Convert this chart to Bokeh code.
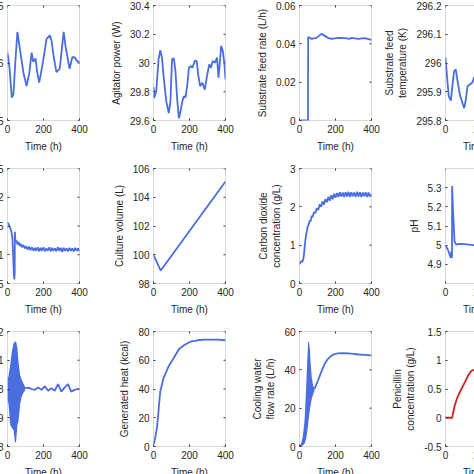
import math
from bokeh.plotting import figure
from bokeh.layouts import gridplot
from bokeh.models import FixedTicker, Range1d
from bokeh.embed import file_html
from bokeh.resources import INLINE

# ---------------- data (time in h) ----------------
time_ticks = [0, 200, 400]

# aeration rate
t_air = [0, 11, 24, 33, 44, 55, 70, 88, 106, 121, 134, 143, 156, 165, 176, 195, 217, 235, 244, 257, 272, 290, 299, 312, 323, 345, 360, 373, 385, 396, 400]
air = [8.609, 8.596, 8.570, 8.573, 8.602, 8.627, 8.611, 8.592, 8.580, 8.591, 8.609, 8.601, 8.604, 8.592, 8.583, 8.599, 8.621, 8.624, 8.620, 8.605, 8.592, 8.595, 8.608, 8.627, 8.614, 8.595, 8.605, 8.605, 8.602, 8.601, 8.600]
air_ticks = [8.55, 8.6, 8.65]

# agitator power
t_agit = [0, 4, 15, 28, 38, 47, 56, 71, 85, 94, 103, 113, 122, 131, 141, 150, 160, 169, 178, 188, 197, 207, 216, 229, 240, 248, 259, 272, 285, 297, 310, 319, 329, 342, 353, 361, 366, 376, 385, 394, 400]
agit = [29.832, 29.757, 29.80, 30.026, 30.089, 30.037, 29.909, 29.733, 29.651, 29.733, 30.026, 30.033, 29.944, 29.757, 29.616, 29.663, 29.733, 29.768, 29.761, 29.850, 29.967, 29.979, 29.967, 30.014, 30.014, 29.920, 29.839, 29.862, 29.815, 29.909, 29.991, 29.967, 30.014, 30.002, 30.037, 29.897, 29.967, 30.119, 30.084, 29.991, 29.885]
agit_ticks = [29.6, 29.8, 30, 30.2, 30.4]

# substrate feed rate
t_feed = [0, 47, 48, 67, 94, 122, 159, 178, 215, 252, 280, 289, 326, 363, 400]
feed = [0, 0, 0.0435, 0.0426, 0.0431, 0.0452, 0.0431, 0.0426, 0.0431, 0.0430, 0.0426, 0.0431, 0.0426, 0.0430, 0.0421]
feed_ticks = [0, 0.02, 0.04, 0.06]

# substrate feed temperature
t_ftemp = [0, 9, 18, 30, 39, 48, 57, 67, 80, 94, 104, 113, 122, 135, 148, 159, 167, 180, 200, 220, 250, 280, 320, 360, 400]
ftemp = [296.019, 295.949, 295.884, 295.869, 295.925, 295.972, 295.978, 295.937, 295.890, 295.861, 295.843, 295.873, 295.919, 295.925, 295.931, 295.949, 295.954, 295.965, 295.99, 296.0, 295.98, 296.01, 295.99, 296.0, 295.99]
ftemp_ticks = [295.8, 295.9, 296, 296.1, 296.2]

# dissolved oxygen concentration
t_do = [0, 8, 16, 22, 27, 30, 33, 36, 38, 40, 41, 43, 46, 50, 56, 62, 68, 74, 80, 88, 96, 104, 112, 120, 128, 136, 144, 152, 160, 168, 176, 184, 192, 200, 208, 216, 224, 232, 240, 248, 256, 264, 272, 280, 288, 296, 304, 312, 320, 328, 336, 344, 352, 360, 368, 376, 384, 392, 400]
do = [1.156, 1.152, 1.146, 1.140, 1.130, 1.110, 1.085, 1.064, 1.057, 1.070, 1.140, 1.128, 1.122, 1.125, 1.118, 1.122, 1.115, 1.119, 1.113, 1.117, 1.111, 1.115, 1.109, 1.114, 1.108, 1.113, 1.107, 1.112, 1.107, 1.113, 1.106, 1.112, 1.107, 1.113, 1.106, 1.111, 1.107, 1.113, 1.106, 1.112, 1.107, 1.111, 1.106, 1.113, 1.107, 1.112, 1.105, 1.112, 1.107, 1.111, 1.106, 1.112, 1.107, 1.111, 1.106, 1.112, 1.107, 1.111, 1.106]
do_ticks = [1.05, 1.1, 1.15, 1.2, 1.25]

# culture volume
t_vol = [0, 10, 20, 30, 40, 100, 200, 300, 400]
vol = [100.0, 99.72, 99.45, 99.17, 98.9, 99.93, 101.65, 103.38, 105.1]
vol_ticks = [98, 100, 102, 104, 106]

# carbon dioxide concentration
t_co2 = [0, 8, 16, 22, 26, 30, 34, 38, 42, 46, 50, 56, 62, 68, 74, 80, 88, 96, 104, 112, 120, 128, 136, 144, 152, 160, 168, 176, 184, 192, 200, 208, 216, 224, 232, 240, 248, 256, 264, 272, 280, 288, 296, 304, 312, 320, 328, 336, 344, 352, 360, 368, 376, 384, 392, 400]
co2 = [0.50, 0.58, 0.56, 0.66, 0.80, 1.02, 1.18, 1.30, 1.38, 1.50, 1.52, 1.64, 1.62, 1.76, 1.74, 1.86, 1.84, 1.96, 1.92, 2.06, 2.00, 2.14, 2.06, 2.20, 2.12, 2.26, 2.16, 2.30, 2.20, 2.34, 2.24, 2.36, 2.26, 2.38, 2.27, 2.37, 2.26, 2.38, 2.27, 2.39, 2.26, 2.38, 2.28, 2.37, 2.26, 2.39, 2.27, 2.38, 2.26, 2.37, 2.28, 2.38, 2.26, 2.37, 2.27, 2.33]
co2_ticks = [0, 1, 2, 3]

# pH
t_ph = [0, 13, 26, 30, 33, 36, 37, 41, 44, 50, 59, 78, 106, 152, 200, 250, 300, 350, 400]
ph = [5.0, 4.977, 4.942, 4.934, 4.969, 4.934, 5.309, 5.195, 5.143, 5.021, 5.003, 5.007, 5.005, 5.0, 5.003, 5.0, 5.002, 5.0, 5.001]
ph_ticks = [4.9, 5, 5.1, 5.2, 5.3]

# temperature: oscillating start (envelope), then settled trace
t_temp_band = [0, 5, 15, 24, 33, 42, 48, 55, 61, 70, 79, 88, 97]
temp_hi = [298.038, 298.043, 298.084, 298.130, 298.159, 298.165, 298.165, 298.142, 298.096, 298.049, 298.032, 298.020, 298.009]
temp_lo = [297.957, 297.951, 297.875, 297.864, 297.858, 297.812, 297.817, 297.875, 297.887, 297.945, 297.974, 297.986, 297.994]
t_temp = [97, 116, 134, 152, 171, 189, 207, 226, 244, 262, 281, 299, 317, 336, 354, 372, 391, 400]
temp = [298.003, 298.005, 298.0, 297.997, 298.005, 297.997, 298.009, 297.994, 298.003, 297.994, 298.017, 297.991, 298.005, 298.017, 297.991, 297.997, 298.0, 298.0]
temp_ticks = [297.8, 297.9, 298, 298.1, 298.2]

# generated heat
t_heat = [0, 9, 19, 28, 34, 38, 56, 85, 113, 141, 169, 207, 244, 282, 319, 357, 400]
heat = [1.2, 5.8, 12.8, 24.5, 33.8, 38.5, 47.8, 56, 61.8, 67.6, 70.4, 73, 73.9, 74.4, 74.4, 74.4, 73.9]
heat_ticks = [0, 20, 40, 60, 80]

# cooling water flow rate: oscillating start (envelope), then trace
t_cw_band = [0, 9, 18, 28, 37, 43, 48, 52, 57, 61, 68, 76, 83]
cw_hi = [0.5, 1.4, 4.9, 13.5, 30.9, 44.7, 54.3, 55.1, 51.7, 44.7, 36.1, 31.7, 30.5]
cw_lo = [0, 0, 0.5, 1.4, 4.0, 7.5, 11.8, 15.3, 18.7, 21.3, 24.8, 27.4, 29.1]
t_cw = [83, 90, 102, 120, 139, 157, 176, 194, 213, 241, 270, 300, 330, 360, 400]
cw = [30, 31.5, 34.3, 38.7, 43, 45.6, 47.3, 48.2, 48.6, 48.7, 48.6, 48.3, 48.0, 47.8, 47.5]
cw_ticks = [0, 20, 40, 60]

# penicillin concentration
t_pen = [0, 37, 50, 60, 69, 87, 106, 124, 143, 161, 180, 200, 250, 300, 350, 400]
pen = [0, 0, 0.2, 0.3, 0.375, 0.491, 0.608, 0.724, 0.812, 0.841, 0.88, 0.94, 1.05, 1.15, 1.22, 1.28]
pen_ticks = [-0.5, 0, 0.5, 1, 1.5]

# ---------------- styling ----------------
BLUE = "#4a6ee0"
RED = "#cc2222"
FRAME = "#d9d9d9"
TEXT = "#262626"
TICK = "#333333"
FONT = "Liberation Sans"


def style_axis(ax, ticks):
    ax.ticker = FixedTicker(ticks=ticks)
    ax.major_label_overrides = {v: f"{v:g}" for v in ticks}
    ax.axis_line_color = None
    ax.major_tick_in = 2
    ax.major_tick_out = 0
    ax.major_tick_line_color = TICK
    ax.minor_tick_line_color = None
    ax.major_label_text_font = FONT
    ax.major_label_text_font_size = "10px"
    ax.major_label_text_color = TEXT
    ax.major_label_standoff = 4
    ax.axis_label_text_font = FONT
    ax.axis_label_text_font_size = "10px"
    ax.axis_label_text_font_style = "normal"
    ax.axis_label_text_color = TEXT
    ax.axis_label_standoff = 5


def panel(ylabel, ylim, yticks):
    p = figure(width=146, height=163, output_backend="svg", toolbar_location=None,
               x_range=Range1d(0, 400), y_range=Range1d(*ylim),
               min_border_left=64, min_border_right=10,
               min_border_top=8, min_border_bottom=40)
    p.xgrid.visible = False
    p.ygrid.visible = False
    p.outline_line_color = FRAME
    p.background_fill_color = "white"
    p.border_fill_color = "white"
    style_axis(p.xaxis[0], time_ticks)
    style_axis(p.yaxis[0], yticks)
    p.xaxis[0].axis_label = "Time (h)"
    p.yaxis[0].axis_label = ylabel
    # mirrored tick marks along the top and right edges of the box
    p.scatter(x=time_ticks, y=[ylim[1]] * len(time_ticks), marker="dash",
              angle=math.pi / 2, size=4, line_color=TICK, line_width=1)
    p.scatter(x=[400] * len(yticks), y=yticks, marker="dash",
              size=4, line_color=TICK, line_width=1)
    return p


LW = 1.8

p1 = panel("Aeration rate (L/h)", (8.55, 8.65), air_ticks)
p1.line(t_air, air, color=BLUE, line_width=LW)

p2 = panel("Agitator power (W)", (29.6, 30.4), agit_ticks)
p2.line(t_agit, agit, color=BLUE, line_width=LW)

p3 = panel("Substrate feed rate (L/h)", (0, 0.06), feed_ticks)
p3.line(t_feed, feed, color=BLUE, line_width=LW)

p4 = panel("Substrate feed\ntemperature (K)", (295.8, 296.2), ftemp_ticks)
p4.line(t_ftemp, ftemp, color=BLUE, line_width=LW)

p5 = panel("Dissolved oxygen\nconcentration (g/L)", (1.05, 1.25), do_ticks)
p5.line(t_do, do, color=BLUE, line_width=LW)

p6 = panel("Culture volume (L)", (98, 106), vol_ticks)
p6.line(t_vol, vol, color=BLUE, line_width=LW)

p7 = panel("Carbon dioxide\nconcentration (g/L)", (0, 3), co2_ticks)
p7.line(t_co2, co2, color=BLUE, line_width=LW)

p8 = panel("pH", (4.8, 5.4), ph_ticks)
p8.line(t_ph, ph, color=BLUE, line_width=LW)

p9 = panel("Temperature (K)", (297.8, 298.2), temp_ticks)
p9.varea(x=t_temp_band, y1=temp_lo, y2=temp_hi, color=BLUE)
p9.line(t_temp, temp, color=BLUE, line_width=LW)

p10 = panel("Generated heat (kcal)", (0, 80), heat_ticks)
p10.line(t_heat, heat, color=BLUE, line_width=LW)

p11 = panel("Cooling water\nflow rate (L/h)", (0, 60), cw_ticks)
p11.varea(x=t_cw_band, y1=cw_lo, y2=cw_hi, color=BLUE)
p11.line(t_cw, cw, color=BLUE, line_width=LW)

p12 = panel("Penicillin\nconcentration (g/L)", (-0.5, 1.5), pen_ticks)
p12.line(t_pen, pen, color=RED, line_width=LW)

grid = gridplot([[p1, p2, p3, p4], [p5, p6, p7, p8], [p9, p10, p11, p12]],
                toolbar_location=None)
grid.margin = (-3, 0, 0, -57)

open("out.html", "w").write(file_html(grid, INLINE))
